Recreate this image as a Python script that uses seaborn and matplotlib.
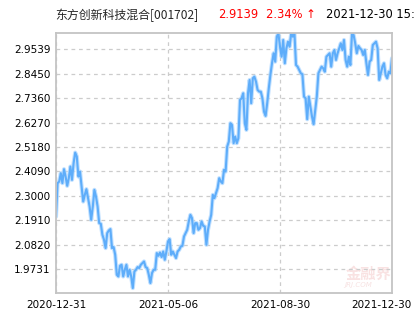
import numpy as np
import pandas as pd
import seaborn as sns
import matplotlib.pyplot as plt
from matplotlib.transforms import ScaledTranslation

nav = [
    2.2075, 2.3564, 2.3635, 2.4010, 2.3564, 2.4188, 2.3858, 2.3444, 2.3787, 2.4304,
    2.3711, 2.4456, 2.4928, 2.4750, 2.3858, 2.4081, 2.3412, 2.2743, 2.3042, 2.3296,
    2.2895, 2.2520, 2.1927, 2.2520, 2.3265, 2.2966, 2.2520, 2.1780, 2.1749, 2.1259,
    2.1036, 2.0666, 2.1334, 2.1450, 2.1513, 2.0666, 2.0710, 2.0367, 1.9475, 1.9399,
    1.9876, 1.9921, 1.9399, 1.9698, 1.9921, 1.9399, 1.9698, 1.9399, 1.8882, 1.9622,
    1.9698, 1.9818, 1.9774, 1.9921, 1.9997, 2.0068, 1.9818, 1.9774, 1.9475, 1.9105,
    1.9551, 1.9698, 1.9698, 2.0443, 2.0322, 2.0469, 2.0264, 2.0514, 2.0144, 2.0514,
    2.0960, 2.1067, 2.0367, 2.0514, 2.0367, 2.0220, 2.0514, 2.0590, 2.0737, 2.0768,
    2.1183, 2.1334, 2.1482, 2.1852, 2.2150, 2.2003, 2.1334, 2.1780, 2.1780, 2.1482,
    2.1557, 2.1852, 2.1660, 2.1629, 2.0813, 2.1482, 2.1852, 2.2150, 2.3042, 2.2895,
    2.3118, 2.3341, 2.3787, 2.3635, 2.3564, 2.4157, 2.4081, 2.5196, 2.5419, 2.6239,
    2.6164, 2.5348, 2.5642, 2.5348, 2.5570, 2.7278, 2.7354, 2.7577, 2.6239, 2.5941,
    2.7577, 2.8170, 2.7131, 2.8246, 2.8317, 2.8094, 2.7724, 2.7648, 2.7648, 2.7354,
    2.6757, 2.6565, 2.7131, 2.7800, 2.8393, 2.8915, 2.9361, 2.8986, 3.0101, 3.0252,
    2.9655, 2.9209, 2.9954, 2.8915, 2.9584, 2.9878, 2.9655, 3.0252, 3.0101, 3.0310,
    2.8839, 2.8763, 2.8616, 2.8469, 2.8424, 2.7425, 2.7354, 2.6418, 2.7425, 2.6980,
    2.6534, 2.6195, 2.6832, 2.7425, 2.8469, 2.8616, 2.8763, 2.8692, 2.8540, 2.9209,
    2.9285, 2.9361, 2.8763, 2.9361, 2.9508, 2.9062, 2.9361, 2.9584, 2.9807, 2.9508,
    2.9954, 2.9062, 2.8763, 2.9209, 2.8839, 3.0252, 3.0177, 2.9807, 2.9361, 2.9686,
    2.9584, 2.9508, 2.9285, 2.9508, 2.8915, 2.8393, 2.8986, 2.9062, 2.9731, 2.9807,
    2.9878, 2.9584, 2.8170, 2.8469, 2.8763, 2.8915, 2.8393, 2.8246, 2.8540, 2.8469,
    2.9139,
]
y_ticks = [1.9731, 2.0820, 2.1910, 2.3000, 2.4090, 2.5180, 2.6270, 2.7360, 2.8450, 2.9539]
x_labels = ["2020-12-31", "2021-05-06", "2021-08-30", "2021-12-30"]

fund_name = "东方创新科技混合[001702]"
last_nav = "2.9139"
last_chg = "2.34% ↑"
last_time = "2021-12-30 15:00"

df = pd.DataFrame({"day": np.arange(len(nav)), "nav": nav})
n = len(nav) - 1

sns.set_style("white")
plt.rcParams["font.family"] = ["DejaVu Sans", "Noto Sans CJK SC"]

fig = plt.figure(figsize=(4.15, 3.3), dpi=100)
ax = fig.add_axes([56 / 415, 37 / 330, 336 / 415, 260 / 330])

sns.lineplot(data=df, x="day", y="nav", ax=ax, color="#b3daff", linewidth=3.0, alpha=0.8)
sns.lineplot(data=df, x="day", y="nav", ax=ax, color="#5eadfa", linewidth=1.5)

ax.set_xlim(0, n)
ax.set_ylim(1.8661, 3.0266)
ax.set_yticks(y_ticks)
ax.set_yticklabels([f"{v:.4f}" for v in y_ticks], fontsize=7.5)
ax.set_xticks([0, n / 3, 2 * n / 3, n])
ax.set_xticklabels(x_labels, fontsize=7.5)
ax.tick_params(axis="y", length=0, pad=4, colors="black")
ax.tick_params(axis="x", length=0, pad=5, colors="black")
# last date label is pulled inside the figure
lbl = ax.get_xticklabels()[-1]
lbl.set_transform(lbl.get_transform() + ScaledTranslation(-11 / 100, 0, fig.dpi_scale_trans))
ax.set_xlabel("")
ax.set_ylabel("")

ax.grid(True, color="#cccccc", linestyle=(0, (3, 3)), linewidth=0.9)
for s in ax.spines.values():
    s.set_color("#c4c4c4")
    s.set_linewidth(1.3)

# watermark
ax.text(0.93, 0.075, "金融界", transform=ax.transAxes, fontsize=11, color="#f9e2e2",
        ha="center", va="center", family=["Noto Sans CJK SC"], fontweight="bold", zorder=0)
ax.text(0.9, 0.03, "JRJ.COM", transform=ax.transAxes, fontsize=5, color="#f7e2e2",
        ha="center", va="center", style="italic", zorder=0)

# header line
fam = ["Noto Sans CJK SC", "DejaVu Sans"]
fig.text(55 / 415, 1 - 15 / 330, fund_name, fontsize=8.6, family=fam, va="center")
fig.text(218 / 415, 1 - 15 / 330, last_nav, fontsize=8.3, color="red", va="center")
fig.text(266 / 415, 1 - 15 / 330, last_chg, fontsize=8.3, color="red", va="center")
fig.text(326 / 415, 1 - 15 / 330, last_time, fontsize=8.3, color="black", va="center")

fig.savefig("out.png", dpi=100)
